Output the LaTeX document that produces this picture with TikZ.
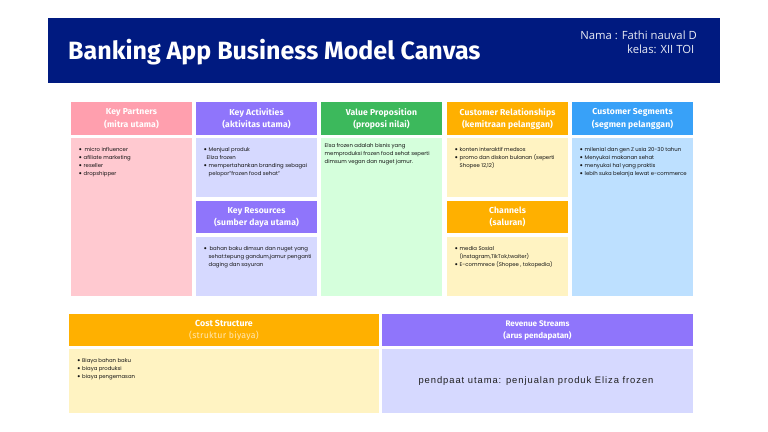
\documentclass[tikz,border=0pt]{standalone}
\usepackage{fontspec}
\setmainfont{Poppins}
\newfontfamily\headfont{Fira Sans}
\newfontfamily\namefont{Open Sans}
\newfontfamily\revfont[LetterSpace=10]{Liberation Sans}
\definecolor{navy}{HTML}{001A80}
\definecolor{pinkH}{HTML}{FF9FAE}
\definecolor{pinkB}{HTML}{FFC9D0}
\definecolor{purpH}{HTML}{8F75FB}
\definecolor{purpB}{HTML}{D6D9FF}
\definecolor{greenH}{HTML}{3CB95C}
\definecolor{greenB}{HTML}{D5FFDC}
\definecolor{orngH}{HTML}{FFB000}
\definecolor{orngB}{HTML}{FFF3C2}
\definecolor{blueH}{HTML}{38A1F8}
\definecolor{blueB}{HTML}{BDE0FF}
\newcommand{\blt}[1]{\makebox[5pt][l]{\raisebox{-0.75pt}{\fontsize{8.5}{8.1}\selectfont\textbullet}}#1}
\newcommand{\cnt}[1]{\hspace*{5pt}#1}
\tikzset{
  x=1pt,y=-1pt,
  headtext/.style={text=white,font=\headfont\bfseries\fontsize{8.6}{12.2}\selectfont\addfontfeature{LetterSpace=1.5},align=center,inner sep=0pt},
  listtext/.style={text=black!92,font=\fontsize{5.35}{8.1}\selectfont,align=left,inner sep=0pt,anchor=north west},
}
\newcommand{\cbox}[6]{% name, x1,y1,x2,y2, colour
  \fill[#6] (#2,#3) rectangle (#4,#5);
  \coordinate (#1) at ({(#2+#4)/2},{(#3+#5)/2});
}
\begin{document}
\begin{tikzpicture}
\useasboundingbox (0,0) rectangle (768,431);
\fill[white] (0,0) rectangle (768,431);
% banner
\cbox{banner}{48}{18}{720}{83}{navy}
\node[text=white,font=\headfont\bfseries\fontsize{25}{28}\selectfont,inner sep=0pt,anchor=west] (title) at (68,52.5) {Banking App Business Model Canvas};
\node[text=white!92!navy,font=\namefont\fontsize{11.3}{14}\selectfont,inner sep=0pt,align=right,anchor=north east] (who) at (697,31) {Nama : Fathi nauval D\\kelas: XII TOI\hspace*{2.5pt}};
% Key partners
\cbox{kpH}{71}{102}{192}{135}{pinkH}
\cbox{kpB}{71}{138}{192}{296}{pinkB}
\node[headtext] (kpT) at (131.5,118.8) {Key Partners\\(mitra utama)};
\node[listtext] (kpL) at (78.5,147) {\blt{\,micro influencer}\\\blt{afiliate marketing}\\\blt{reseller}\\\blt{dropshipper}};
% Key activities
\cbox{kaH}{196}{102}{317}{135}{purpH}
\cbox{kaB}{196}{138}{317}{197}{purpB}
\node[headtext] (kaT) at (256.5,118.8) {Key Activities\\(aktivitas utama)};
\node[listtext] (kaL) at (203.5,147) {\blt{Menjual produk}\\\hspace*{3pt}Eliza frozen\\\blt{mempertahankan branding sebagai}\\\cnt{pelopor"frozen food sehat"}};
% Key resources
\cbox{krH}{196}{201}{317}{233}{purpH}
\cbox{krB}{196}{237}{317}{296}{purpB}
\node[headtext] (krT) at (256.5,217.3) {Key Resources\\(sumber daya utama)};
\node[listtext] (krL) at (203.5,246) {\blt{\,bahan baku dimsun dan nuget yang}\\\cnt{sehat:tepung gandum,jamur penganti}\\\cnt{daging dan sayuran}};
% Value proposition
\cbox{vpH}{321}{102}{442}{135}{greenH}
\cbox{vpB}{321}{138}{442}{296}{greenB}
\node[headtext] (vpT) at (381.5,118.8) {Value Proposition\\(proposi nilai)};
\node[listtext] (vpL) at (324.5,143) {Elsa frozen adalah bisnis yang\\memproduksi frozen food sehat seperti\\dimsum vegan dan nuget jamur.};
% Customer relationships
\cbox{crH}{447}{102}{568}{135}{orngH}
\cbox{crB}{447}{138}{568}{197}{orngB}
\node[headtext] (crT) at (507.5,118.8) {Customer Relationships\\(kemitraan pelanggan)};
\node[listtext] (crL) at (454.5,147) {\blt{konten interaktif medsos}\\\blt{promo dan diskon bulanan (seperti}\\\cnt{Shopee 12,12)}};
% Channels
\cbox{chH}{447}{201}{568}{233}{orngH}
\cbox{chB}{447}{237}{568}{296}{orngB}
\node[headtext] (chT) at (507.5,217.3) {Channels\\(saluran)};
\node[listtext] (chL) at (454.5,246) {\blt{media Sosial}\\\cnt{(Instagram,TikTok,twaiter)}\\\blt{E-commrece (Shopee , tokopedia)}};
% Customer segments
\cbox{csH}{572}{102}{693}{135}{blueH}
\cbox{csB}{572}{138}{693}{296}{blueB}
\node[headtext] (csT) at (632.5,118.8) {Customer Segments\\(segmen pelanggan)};
\node[listtext] (csL) at (579.5,147) {\blt{milenial dan gen Z usia 20-30 tahun}\\\blt{Menyukai makanan sehat}\\\blt{menyukai hal yang praktis}\\\blt{lebih suka belanja lewat e-commerce}};
% Cost structure
\cbox{cost}{69}{314}{379}{346}{orngH}
\cbox{costB}{69}{349}{379}{413}{orngB}
\node[headtext,font=\headfont\fontsize{8.8}{12.2}\selectfont] (costT) at (224,330.3) {\textbf{Cost Structure}\\{\color{white!70!orngH}\addfontfeature{LetterSpace=3}(struktur biyaya)}};
\node[listtext] (costL) at (77,358) {\blt{Biaya bahan baku}\\\blt{biaya produksi}\\\blt{biaya pengemasan}};
% Revenue streams
\cbox{rev}{382}{314}{693}{346}{purpH}
\cbox{revB}{382}{349}{693}{413}{purpB}
\node[headtext,font=\headfont\bfseries\fontsize{8.1}{12.2}\selectfont] (revT) at (537.5,330.3) {Revenue Streams\\(arus pendapatan)};
\node[text=black!88,font=\revfont\fontsize{9.4}{11}\selectfont,inner sep=0pt] (revL) at (536,380.7) {pendpaat utama: penjualan produk Eliza frozen};
\end{tikzpicture}
\end{document}
